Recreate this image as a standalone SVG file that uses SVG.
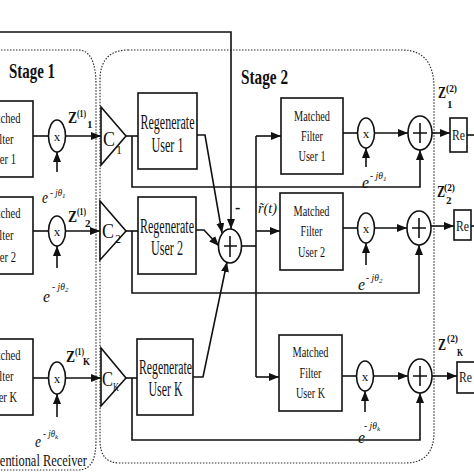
<svg xmlns="http://www.w3.org/2000/svg" width="474" height="474" viewBox="0 0 474 474">
<defs>
<marker id="ah" viewBox="0 0 10 8" refX="10" refY="4" markerWidth="10" markerHeight="8" markerUnits="userSpaceOnUse" orient="auto"><path d="M0,0 L10,4 L0,8 z" fill="#111"/></marker>
</defs>
<style>
.ln{fill:none;stroke:#111;stroke-width:1.6}
.ar{fill:none;stroke:#111;stroke-width:1.6;marker-end:url(#ah)}
.box{fill:#fff;stroke:#111;stroke-width:1.6}
.dot{fill:none;stroke:#333;stroke-width:1.2;stroke-dasharray:1.5 1.5}
.t{font-family:"Liberation Serif","Times New Roman",serif;fill:#111}
.mf{font-size:15px;text-anchor:middle}
.rg{font-size:20px;text-anchor:middle}
.st{font-size:22px;font-weight:bold}
.zb{font-size:16px;font-weight:bold}
.zs{font-size:10px;font-weight:bold}
.zsub{font-size:11px;font-weight:bold}
.e{font-size:17px;font-style:italic}
.es{font-size:10px;font-style:italic}
.ess{font-size:7px;font-style:italic}
.cx{font-size:13px;text-anchor:middle}
.cl{font-size:22px}
.cs{font-size:12px}
</style>

<!-- stage boundaries -->
<g id="stage1">
<path class="dot" d="M-5,50 H78 C90,50 96,62 96,85 V440 C96,458 92,470 78,470 H-5"/>
<text class="t st" x="9" y="78" textLength="46" lengthAdjust="spacingAndGlyphs">Stage 1</text>
<text class="t" x="-27" y="466" font-size="17" textLength="114" lengthAdjust="spacingAndGlyphs">Conventional Receiver</text>
</g>
<g id="stage2">
<path class="dot" d="M128,50 H402 C425,50 434,65 434,88 V432 C434,452 425,463 405,463 H120 C106,463 100,455 100,440 V80 C100,60 110,50 128,50 Z"/>
<text class="t st" x="241" y="84" textLength="47" lengthAdjust="spacingAndGlyphs">Stage 2</text>
</g>

<!-- connectors -->
<g id="connectors">
<path class="ar" d="M0,32 H231 V229"/>
<path class="ln" d="M33,136 H48.5"/>
<path class="ar" d="M65.5,136 H101"/>
<path class="ar" d="M57,172 V152"/>
<path class="ln" d="M126,136 H138"/>
<path class="ln" d="M33,231 H48.5"/>
<path class="ar" d="M65.5,231 H100"/>
<path class="ar" d="M57,268 V246"/>
<path class="ln" d="M126,231 H138"/>
<path class="ln" d="M33,378 H48.5"/>
<path class="ar" d="M65.5,378 H101"/>
<path class="ar" d="M57,417 V394"/>
<path class="ln" d="M126,378 H137"/>
<path class="ar" d="M197,135 H205 L222,233"/>
<path class="ar" d="M196,230 H204 L219,246"/>
<path class="ar" d="M193,377 H203 L227,262"/>
<path class="ln" d="M241.5,246 H256"/>
<path class="ln" d="M256,136 V377"/>
<path class="ar" d="M256,136 H281"/>
<path class="ar" d="M256,231 H280"/>
<path class="ar" d="M256,377 H279"/>
<path class="ar" d="M132,136 V187 H420 V150"/>
<path class="ar" d="M132,231 V293 H419 V245"/>
<path class="ar" d="M132,378 V440 H420 V393"/>
<path class="ln" d="M343,133 H357.5"/>
<path class="ar" d="M374.5,133 H408"/>
<path class="ar" d="M366,167 V148"/>
<path class="ar" d="M432,133 H450"/>
<path class="ln" d="M467,135 H474"/>
<path class="ln" d="M343,228 H357.5"/>
<path class="ar" d="M374.5,228 H407"/>
<path class="ar" d="M366,265 V243"/>
<path class="ar" d="M431,226 H454"/>
<path class="ln" d="M471,226 H474"/>
<path class="ln" d="M342,376 H356.5"/>
<path class="ar" d="M373.5,376 H408"/>
<path class="ar" d="M365,412 V391"/>
<path class="ar" d="M432,376 H457"/>
</g>

<!-- Stage 1 nodes -->
<g id="mf1-1">
<rect class="box" x="-29" y="101" width="62" height="76"/>
<text class="t mf" x="2" y="123" font-size="16" textLength="37" lengthAdjust="spacingAndGlyphs">Matched</text>
<text class="t mf" x="2" y="144" font-size="16" textLength="23" lengthAdjust="spacingAndGlyphs">Filter</text>
<text class="t mf" x="2" y="164" font-size="16" textLength="28" lengthAdjust="spacingAndGlyphs">User 1</text>
</g>
<g id="mf1-2">
<rect class="box" x="-29" y="197" width="62" height="77"/>
<text class="t mf" x="2" y="218" font-size="16" textLength="37" lengthAdjust="spacingAndGlyphs">Matched</text>
<text class="t mf" x="2" y="240" font-size="16" textLength="23" lengthAdjust="spacingAndGlyphs">Filter</text>
<text class="t mf" x="2" y="262" font-size="16" textLength="28" lengthAdjust="spacingAndGlyphs">User 2</text>
</g>
<g id="mf1-k">
<rect class="box" x="-29" y="339" width="62" height="76"/>
<text class="t mf" x="2" y="360" font-size="16" textLength="37" lengthAdjust="spacingAndGlyphs">Matched</text>
<text class="t mf" x="2" y="381" font-size="16" textLength="23" lengthAdjust="spacingAndGlyphs">Filter</text>
<text class="t mf" x="2" y="402" font-size="16" textLength="30" lengthAdjust="spacingAndGlyphs">User K</text>
</g>
<g id="mul1-1">
<ellipse class="box" cx="57" cy="136" rx="8.5" ry="16"/>
<text class="t cx" x="57" y="140.5">x</text>
</g>
<g id="mul1-2">
<ellipse class="box" cx="57" cy="231" rx="8.5" ry="15"/>
<text class="t cx" x="57" y="235.5">x</text>
</g>
<g id="mul1-k">
<ellipse class="box" cx="57" cy="378" rx="8.5" ry="16"/>
<text class="t cx" x="57" y="382.5">x</text>
</g>
<g id="labels1">
<text class="t zb" x="68" y="123" textLength="9" lengthAdjust="spacingAndGlyphs">Z</text>
<text class="t zs" x="77" y="117" textLength="9" lengthAdjust="spacingAndGlyphs">(1)</text>
<text class="t zsub" x="87" y="128">1</text>
<text class="t zb" x="68" y="222" textLength="9" lengthAdjust="spacingAndGlyphs">Z</text>
<text class="t zs" x="77" y="215" textLength="9" lengthAdjust="spacingAndGlyphs">(1)</text>
<text class="t zsub" x="85" y="227">2</text>
<text class="t zb" x="66" y="362" textLength="9" lengthAdjust="spacingAndGlyphs">Z</text>
<text class="t zs" x="75" y="355" textLength="9" lengthAdjust="spacingAndGlyphs">(1)</text>
<text class="t zsub" x="83" y="365" textLength="7" lengthAdjust="spacingAndGlyphs">K</text>
<text class="t e" x="42" y="203" textLength="6" lengthAdjust="spacingAndGlyphs">e</text>
<text class="t es" x="50" y="196" textLength="12" lengthAdjust="spacingAndGlyphs">- jθ</text>
<text class="t ess" x="62" y="198">1</text>
<text class="t e" x="43" y="302" textLength="7" lengthAdjust="spacingAndGlyphs">e</text>
<text class="t es" x="52" y="290" textLength="13" lengthAdjust="spacingAndGlyphs">- jθ</text>
<text class="t ess" x="65" y="292">2</text>
<text class="t e" x="35" y="447" textLength="6" lengthAdjust="spacingAndGlyphs">e</text>
<text class="t es" x="43" y="437" textLength="12" lengthAdjust="spacingAndGlyphs">- jθ</text>
<text class="t ess" x="55" y="439">k</text>
</g>

<!-- amplifiers -->
<g id="c1">
<path class="box" d="M101,107 L126,136 L101,165 Z"/>
<text class="t cl" x="103" y="146" textLength="12" lengthAdjust="spacingAndGlyphs">C</text>
<text class="t cs" x="116" y="154">1</text>
</g>
<g id="c2">
<path class="box" d="M100,201 L126,231 L100,260 Z"/>
<text class="t cl" x="102" y="238" textLength="12" lengthAdjust="spacingAndGlyphs">C</text>
<text class="t cs" x="115" y="243">2</text>
</g>
<g id="ck">
<path class="box" d="M101,348 L126,378 L101,406 Z"/>
<text class="t cl" x="102" y="386" textLength="11" lengthAdjust="spacingAndGlyphs">C</text>
<text class="t cs" x="113" y="391" textLength="6" lengthAdjust="spacingAndGlyphs">K</text>
</g>

<!-- regenerate -->
<g id="regen1">
<rect class="box" x="138" y="93" width="59" height="76"/>
<text class="t rg" x="167.5" y="129" textLength="54" lengthAdjust="spacingAndGlyphs">Regenerate</text>
<text class="t rg" x="167.5" y="152" textLength="32" lengthAdjust="spacingAndGlyphs">User 1</text>
</g>
<g id="regen2">
<rect class="box" x="138" y="197" width="58" height="77"/>
<text class="t rg" x="167" y="233" textLength="54" lengthAdjust="spacingAndGlyphs">Regenerate</text>
<text class="t rg" x="167" y="255" textLength="32" lengthAdjust="spacingAndGlyphs">User 2</text>
</g>
<g id="regenk">
<rect class="box" x="137" y="339" width="56" height="76"/>
<text class="t rg" x="165.5" y="374" textLength="53" lengthAdjust="spacingAndGlyphs">Regenerate</text>
<text class="t rg" x="165.5" y="396" textLength="34" lengthAdjust="spacingAndGlyphs">User K</text>
</g>

<!-- central summer -->
<g id="sum0">
<ellipse class="box" cx="230" cy="246" rx="11.5" ry="17"/>
<path class="ln" d="M230,236 V257 M224,246 H237"/>
<text class="t" x="235" y="213" font-size="16" font-weight="bold">-</text>
<text class="t" x="258" y="213" font-size="15" font-style="italic" textLength="19" lengthAdjust="spacingAndGlyphs">r̃(t)</text>
</g>

<!-- Stage 2 nodes -->
<g id="mf2-1">
<rect class="box" x="281" y="98" width="62" height="76"/>
<text class="t mf" x="312" y="121" textLength="36" lengthAdjust="spacingAndGlyphs">Matched</text>
<text class="t mf" x="312" y="141" textLength="22" lengthAdjust="spacingAndGlyphs">Filter</text>
<text class="t mf" x="312" y="161" textLength="27" lengthAdjust="spacingAndGlyphs">User 1</text>
</g>
<g id="mf2-2">
<rect class="box" x="280" y="193" width="63" height="77"/>
<text class="t mf" x="311.5" y="216" textLength="36" lengthAdjust="spacingAndGlyphs">Matched</text>
<text class="t mf" x="311.5" y="236" textLength="22" lengthAdjust="spacingAndGlyphs">Filter</text>
<text class="t mf" x="311.5" y="257" textLength="27" lengthAdjust="spacingAndGlyphs">User 2</text>
</g>
<g id="mf2-k">
<rect class="box" x="279" y="335" width="63" height="76"/>
<text class="t mf" x="310.5" y="357" textLength="36" lengthAdjust="spacingAndGlyphs">Matched</text>
<text class="t mf" x="310.5" y="378" textLength="22" lengthAdjust="spacingAndGlyphs">Filter</text>
<text class="t mf" x="310.5" y="398" textLength="29" lengthAdjust="spacingAndGlyphs">User K</text>
</g>
<g id="mul2-1">
<ellipse class="box" cx="366" cy="133" rx="8.5" ry="15"/>
<text class="t cx" x="366" y="137.5">x</text>
</g>
<g id="mul2-2">
<ellipse class="box" cx="366" cy="228" rx="8.5" ry="15"/>
<text class="t cx" x="366" y="232.5">x</text>
</g>
<g id="mul2-k">
<ellipse class="box" cx="365" cy="376" rx="8.5" ry="15"/>
<text class="t cx" x="365" y="380.5">x</text>
</g>
<g id="sum2-1">
<ellipse class="box" cx="420" cy="133" rx="12" ry="17"/>
<path class="ln" d="M420,123 V143 M413,133 H427"/>
</g>
<g id="sum2-2">
<ellipse class="box" cx="419" cy="228" rx="12" ry="17"/>
<path class="ln" d="M419,218 V238 M412,228 H426"/>
</g>
<g id="sum2-k">
<ellipse class="box" cx="420" cy="376" rx="12" ry="17"/>
<path class="ln" d="M420,366 V386 M413,376 H427"/>
</g>
<g id="re1">
<rect class="box" x="450" y="118" width="17" height="34"/>
<text class="t" x="458.5" y="140" font-size="14" text-anchor="middle" textLength="13" lengthAdjust="spacingAndGlyphs">Re</text>
</g>
<g id="re2">
<rect class="box" x="454" y="210" width="17" height="30"/>
<text class="t" x="462.5" y="231" font-size="14" text-anchor="middle" textLength="13" lengthAdjust="spacingAndGlyphs">Re</text>
</g>
<g id="rek">
<rect class="box" x="457" y="362" width="25" height="31"/>
<text class="t" x="459" y="382" font-size="14" textLength="13" lengthAdjust="spacingAndGlyphs">Re</text>
</g>
<g id="labels2">
<text class="t zb" x="438" y="98" textLength="8" lengthAdjust="spacingAndGlyphs">Z</text>
<text class="t zs" x="446" y="92" textLength="11" lengthAdjust="spacingAndGlyphs">(2)</text>
<text class="t zsub" x="447" y="108">1</text>
<text class="t zb" x="437" y="197" textLength="8" lengthAdjust="spacingAndGlyphs">Z</text>
<text class="t zs" x="444" y="191" textLength="11" lengthAdjust="spacingAndGlyphs">(2)</text>
<text class="t zsub" x="446" y="204">2</text>
<text class="t zb" x="438" y="350" textLength="8" lengthAdjust="spacingAndGlyphs">Z</text>
<text class="t zs" x="447" y="342" textLength="11" lengthAdjust="spacingAndGlyphs">(2)</text>
<text class="t zsub" x="457" y="356" textLength="6" lengthAdjust="spacingAndGlyphs">K</text>
<text class="t e" x="362" y="188" textLength="7" lengthAdjust="spacingAndGlyphs">e</text>
<text class="t es" x="370" y="179" textLength="13" lengthAdjust="spacingAndGlyphs">- jθ</text>
<text class="t ess" x="383" y="181">1</text>
<text class="t e" x="358" y="290" textLength="7" lengthAdjust="spacingAndGlyphs">e</text>
<text class="t es" x="366" y="281" textLength="13" lengthAdjust="spacingAndGlyphs">- jθ</text>
<text class="t ess" x="379" y="283">2</text>
<text class="t e" x="358" y="443" textLength="7" lengthAdjust="spacingAndGlyphs">e</text>
<text class="t es" x="364" y="429" textLength="13" lengthAdjust="spacingAndGlyphs">- jθ</text>
<text class="t ess" x="377" y="431">k</text>
</g>
</svg>
